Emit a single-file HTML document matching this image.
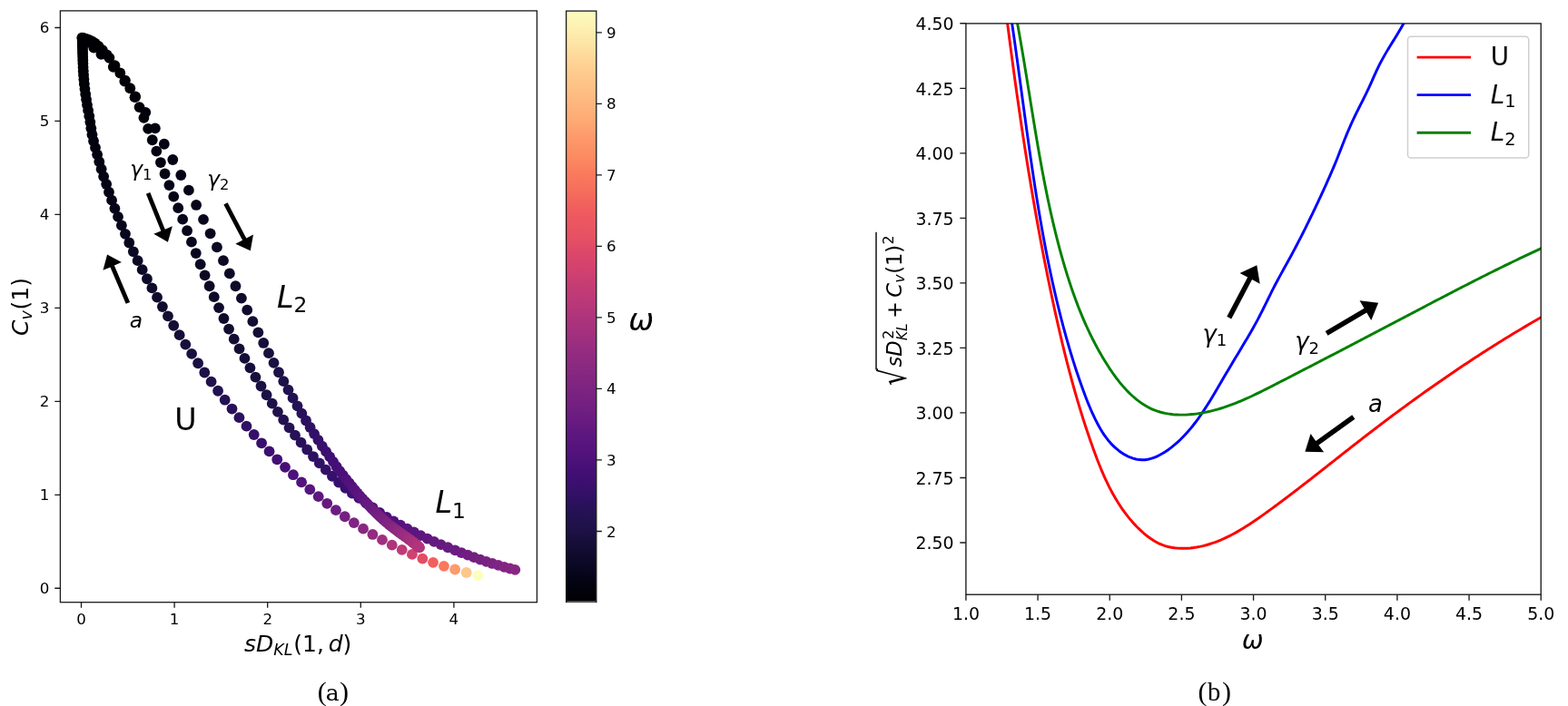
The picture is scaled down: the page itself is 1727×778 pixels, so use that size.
<!DOCTYPE html>
<html lang="en"><head><meta charset="utf-8"><title>Figure: trajectories in the sD_KL - C_v plane</title>
<style>html,body{margin:0;padding:0;background:#fff;}body{width:1727px;height:778px;overflow:hidden;}svg{display:block;}text{white-space:pre;}</style>
</head><body>
<svg width="1727" height="778" viewBox="0 0 1727 778">
<rect x="0" y="0" width="1727" height="778" fill="#fff"/>
<g id="left-axes">
<g id="scatter">
<g id="series-U">
<circle cx="90.8" cy="42" r="5.9" fill="#000004"/>
<circle cx="90.8" cy="42.74" r="5.9" fill="#000004"/>
<circle cx="90.81" cy="44.16" r="5.9" fill="#000004"/>
<circle cx="90.82" cy="45.73" r="5.9" fill="#000004"/>
<circle cx="90.83" cy="47.48" r="5.9" fill="#000004"/>
<circle cx="90.86" cy="49.42" r="5.9" fill="#000004"/>
<circle cx="90.89" cy="51.58" r="5.9" fill="#000004"/>
<circle cx="90.94" cy="53.98" r="5.9" fill="#000004"/>
<circle cx="91" cy="56.64" r="5.9" fill="#000004"/>
<circle cx="91.08" cy="59.6" r="5.9" fill="#010005"/>
<circle cx="91.17" cy="62.86" r="5.9" fill="#010005"/>
<circle cx="91.28" cy="66.33" r="5.9" fill="#010005"/>
<circle cx="91.4" cy="70.03" r="5.9" fill="#010005"/>
<circle cx="91.56" cy="73.98" r="5.9" fill="#010106"/>
<circle cx="91.77" cy="78.21" r="5.9" fill="#010106"/>
<circle cx="92.05" cy="82.71" r="5.9" fill="#010106"/>
<circle cx="92.4" cy="87.51" r="5.9" fill="#010106"/>
<circle cx="92.84" cy="92.62" r="5.9" fill="#010108"/>
<circle cx="93.44" cy="98.07" r="5.9" fill="#010108"/>
<circle cx="94.2" cy="103.74" r="5.9" fill="#010108"/>
<circle cx="95.05" cy="109.56" r="5.9" fill="#020109"/>
<circle cx="95.99" cy="115.55" r="5.9" fill="#020109"/>
<circle cx="97.1" cy="121.69" r="5.9" fill="#020109"/>
<circle cx="98.27" cy="128.01" r="5.9" fill="#02020b"/>
<circle cx="99.35" cy="134.56" r="5.9" fill="#02020b"/>
<circle cx="100.35" cy="141.35" r="5.9" fill="#02020d"/>
<circle cx="101.48" cy="148.33" r="5.9" fill="#02020d"/>
<circle cx="103.03" cy="155.47" r="5.9" fill="#03030f"/>
<circle cx="104.99" cy="162.78" r="5.9" fill="#03030f"/>
<circle cx="107.13" cy="170.33" r="5.9" fill="#030312"/>
<circle cx="109.3" cy="178.14" r="5.9" fill="#030312"/>
<circle cx="111.64" cy="186.21" r="5.9" fill="#030312"/>
<circle cx="114.15" cy="194.53" r="5.9" fill="#040414"/>
<circle cx="117.15" cy="203.02" r="5.9" fill="#050416"/>
<circle cx="119.98" cy="211.74" r="5.9" fill="#050416"/>
<circle cx="123.07" cy="220.64" r="5.9" fill="#060518"/>
<circle cx="126.41" cy="229.72" r="5.9" fill="#06051a"/>
<circle cx="130.01" cy="238.95" r="5.9" fill="#06051a"/>
<circle cx="133.87" cy="248.33" r="5.9" fill="#07061c"/>
<circle cx="137.96" cy="257.86" r="5.9" fill="#08071e"/>
<circle cx="142.29" cy="267.51" r="5.9" fill="#090720"/>
<circle cx="146.86" cy="277.29" r="5.9" fill="#0a0822"/>
<circle cx="151.66" cy="287.18" r="5.9" fill="#0b0924"/>
<circle cx="156.68" cy="297.18" r="5.9" fill="#0c0926"/>
<circle cx="161.92" cy="307.27" r="5.9" fill="#0d0a29"/>
<circle cx="167.37" cy="317.44" r="5.9" fill="#0e0b2b"/>
<circle cx="173.04" cy="327.69" r="5.9" fill="#100b2d"/>
<circle cx="178.9" cy="338.01" r="5.9" fill="#110c2f"/>
<circle cx="184.97" cy="348.37" r="5.9" fill="#120d31"/>
<circle cx="191.23" cy="358.76" r="5.9" fill="#140e36"/>
<circle cx="197.68" cy="369.16" r="5.9" fill="#150e38"/>
<circle cx="204.32" cy="379.55" r="5.9" fill="#160f3b"/>
<circle cx="211.13" cy="389.92" r="5.9" fill="#19103f"/>
<circle cx="218.12" cy="400.24" r="5.9" fill="#1a1042"/>
<circle cx="225.28" cy="410.5" r="5.9" fill="#1d1147"/>
<circle cx="232.6" cy="420.68" r="5.9" fill="#20114b"/>
<circle cx="240.08" cy="430.75" r="5.9" fill="#221150"/>
<circle cx="247.72" cy="440.71" r="5.9" fill="#251255"/>
<circle cx="255.51" cy="450.53" r="5.9" fill="#29115a"/>
<circle cx="263.44" cy="460.19" r="5.9" fill="#2c115f"/>
<circle cx="271.51" cy="469.67" r="5.9" fill="#311165"/>
<circle cx="279.72" cy="478.99" r="5.9" fill="#341069"/>
<circle cx="288.08" cy="488.28" r="5.9" fill="#390f6e"/>
<circle cx="296.58" cy="497.42" r="5.9" fill="#3d0f71"/>
<circle cx="305.22" cy="506.28" r="5.9" fill="#420f75"/>
<circle cx="314.02" cy="514.86" r="5.9" fill="#471078"/>
<circle cx="322.96" cy="523.22" r="5.9" fill="#4c117a"/>
<circle cx="332.05" cy="531.4" r="5.9" fill="#52137c"/>
<circle cx="341.29" cy="539.4" r="5.9" fill="#57157e"/>
<circle cx="350.69" cy="547.19" r="5.9" fill="#5d177f"/>
<circle cx="360.24" cy="554.78" r="5.9" fill="#651a80"/>
<circle cx="369.95" cy="562.13" r="5.9" fill="#6d1d81"/>
<circle cx="379.81" cy="569.24" r="5.9" fill="#752181"/>
<circle cx="389.84" cy="576.1" r="5.9" fill="#7e2482"/>
<circle cx="400.03" cy="582.67" r="5.9" fill="#882781"/>
<circle cx="410.41" cy="588.97" r="5.9" fill="#932b80"/>
<circle cx="420.97" cy="594.95" r="5.9" fill="#a02f7f"/>
<circle cx="431.74" cy="600.62" r="5.9" fill="#ae347b"/>
<circle cx="442.72" cy="605.95" r="5.9" fill="#bf3a77"/>
<circle cx="453.92" cy="610.94" r="5.9" fill="#d0416f"/>
<circle cx="465.34" cy="615.56" r="5.9" fill="#e24d66"/>
<circle cx="477.02" cy="619.85" r="5.9" fill="#f05f5e"/>
<circle cx="488.94" cy="623.83" r="5.9" fill="#f9795d"/>
<circle cx="501.12" cy="627.52" r="5.9" fill="#fd9b6b"/>
<circle cx="513.69" cy="630.97" r="5.9" fill="#fec68a"/>
<circle cx="526.5" cy="634.1" r="5.9" fill="#fcfdbf"/>
</g>
<g id="series-L1">
<circle cx="90.3" cy="41.6" r="5.9" fill="#000004"/>
<circle cx="92.46" cy="42.08" r="5.9" fill="#000004"/>
<circle cx="94.96" cy="42.79" r="5.9" fill="#000004"/>
<circle cx="97.84" cy="43.83" r="5.9" fill="#000004"/>
<circle cx="101.15" cy="45.38" r="5.9" fill="#000004"/>
<circle cx="104.73" cy="47.64" r="5.9" fill="#000004"/>
<circle cx="108.55" cy="51.01" r="5.9" fill="#000004"/>
<circle cx="112.82" cy="55.2" r="5.9" fill="#000004"/>
<circle cx="117.65" cy="60.35" r="5.9" fill="#010005"/>
<circle cx="120.43" cy="63.78" r="5.9" fill="#010005"/>
<circle cx="126.47" cy="72.22" r="5.9" fill="#010106"/>
<circle cx="132.29" cy="80.49" r="5.9" fill="#010106"/>
<circle cx="137.89" cy="88.61" r="5.9" fill="#010108"/>
<circle cx="143.29" cy="97.27" r="5.9" fill="#010108"/>
<circle cx="148.51" cy="107.14" r="5.9" fill="#020109"/>
<circle cx="153.55" cy="118.09" r="5.9" fill="#020109"/>
<circle cx="158.43" cy="129.8" r="5.9" fill="#02020b"/>
<circle cx="163.17" cy="141.94" r="5.9" fill="#02020d"/>
<circle cx="167.78" cy="154.23" r="5.9" fill="#03030f"/>
<circle cx="172.34" cy="166.59" r="5.9" fill="#030312"/>
<circle cx="176.91" cy="179.03" r="5.9" fill="#030312"/>
<circle cx="181.57" cy="191.52" r="5.9" fill="#040414"/>
<circle cx="186.37" cy="204.05" r="5.9" fill="#050416"/>
<circle cx="191.27" cy="216.6" r="5.9" fill="#060518"/>
<circle cx="196.23" cy="229.15" r="5.9" fill="#06051a"/>
<circle cx="201.18" cy="241.7" r="5.9" fill="#07061c"/>
<circle cx="206.08" cy="254.22" r="5.9" fill="#07061c"/>
<circle cx="210.94" cy="266.68" r="5.9" fill="#08071e"/>
<circle cx="215.8" cy="279.03" r="5.9" fill="#090720"/>
<circle cx="220.69" cy="291.25" r="5.9" fill="#0a0822"/>
<circle cx="225.63" cy="303.3" r="5.9" fill="#0b0924"/>
<circle cx="230.65" cy="315.25" r="5.9" fill="#0c0926"/>
<circle cx="235.78" cy="327.14" r="5.9" fill="#0d0a29"/>
<circle cx="241.05" cy="339.06" r="5.9" fill="#0e0b2b"/>
<circle cx="246.47" cy="351" r="5.9" fill="#100b2d"/>
<circle cx="252.05" cy="362.62" r="5.9" fill="#120d31"/>
<circle cx="257.75" cy="373.67" r="5.9" fill="#130d34"/>
<circle cx="263.56" cy="384.33" r="5.9" fill="#140e36"/>
<circle cx="269.46" cy="394.89" r="5.9" fill="#150e38"/>
<circle cx="275.43" cy="405.32" r="5.9" fill="#160f3b"/>
<circle cx="281.45" cy="415.55" r="5.9" fill="#180f3d"/>
<circle cx="287.5" cy="425.52" r="5.9" fill="#1a1042"/>
<circle cx="293.59" cy="435.23" r="5.9" fill="#1c1044"/>
<circle cx="299.74" cy="444.65" r="5.9" fill="#1e1149"/>
<circle cx="305.94" cy="453.81" r="5.9" fill="#20114b"/>
<circle cx="312.21" cy="462.69" r="5.9" fill="#221150"/>
<circle cx="318.57" cy="471.3" r="5.9" fill="#241253"/>
<circle cx="325.01" cy="479.63" r="5.9" fill="#271258"/>
<circle cx="331.56" cy="487.68" r="5.9" fill="#29115a"/>
<circle cx="338.21" cy="495.47" r="5.9" fill="#2c115f"/>
<circle cx="344.97" cy="503.03" r="5.9" fill="#2d1161"/>
<circle cx="351.84" cy="510.4" r="5.9" fill="#311165"/>
<circle cx="358.82" cy="517.63" r="5.9" fill="#331067"/>
<circle cx="365.91" cy="524.73" r="5.9" fill="#36106b"/>
<circle cx="373.1" cy="531.53" r="5.9" fill="#390f6e"/>
<circle cx="380.4" cy="537.86" r="5.9" fill="#3b0f70"/>
<circle cx="387.81" cy="543.62" r="5.9" fill="#3f0f72"/>
<circle cx="395.31" cy="548.84" r="5.9" fill="#420f75"/>
<circle cx="402.9" cy="553.98" r="5.9" fill="#451077"/>
<circle cx="410.53" cy="559.41" r="5.9" fill="#471078"/>
<circle cx="418.19" cy="564.83" r="5.9" fill="#4a1079"/>
<circle cx="425.85" cy="569.85" r="5.9" fill="#4e117b"/>
<circle cx="433.48" cy="574.47" r="5.9" fill="#51127c"/>
<circle cx="441.05" cy="578.74" r="5.9" fill="#54137d"/>
<circle cx="448.55" cy="582.73" r="5.9" fill="#57157e"/>
<circle cx="455.95" cy="586.5" r="5.9" fill="#5a167e"/>
<circle cx="463.3" cy="590.09" r="5.9" fill="#5d177f"/>
<circle cx="470.66" cy="593.53" r="5.9" fill="#5f187f"/>
<circle cx="478.08" cy="596.85" r="5.9" fill="#621980"/>
<circle cx="485.61" cy="600.09" r="5.9" fill="#651a80"/>
<circle cx="493.32" cy="603.27" r="5.9" fill="#681c81"/>
<circle cx="501.26" cy="606.42" r="5.9" fill="#6a1c81"/>
<circle cx="508.19" cy="609.04" r="5.9" fill="#6d1d81"/>
<circle cx="515.18" cy="611.67" r="5.9" fill="#701f81"/>
<circle cx="522.07" cy="614.19" r="5.9" fill="#721f81"/>
<circle cx="528.88" cy="616.59" r="5.9" fill="#752181"/>
<circle cx="535.6" cy="618.84" r="5.9" fill="#782281"/>
<circle cx="542.24" cy="620.97" r="5.9" fill="#7b2382"/>
<circle cx="548.79" cy="622.94" r="5.9" fill="#7e2482"/>
<circle cx="555.27" cy="624.78" r="5.9" fill="#812581"/>
<circle cx="561.66" cy="626.48" r="5.9" fill="#842681"/>
<circle cx="567.3" cy="627.9" r="5.9" fill="#882781"/>
</g>
<g id="series-L2">
<circle cx="90.8" cy="42" r="5.9" fill="#000004"/>
<circle cx="96.5" cy="46.5" r="5.9" fill="#000004"/>
<circle cx="103.3" cy="52.6" r="5.9" fill="#000004"/>
<circle cx="111.45" cy="59.76" r="5.9" fill="#010005"/>
<circle cx="124.77" cy="73.75" r="5.9" fill="#010106"/>
<circle cx="137.32" cy="89.56" r="5.9" fill="#010108"/>
<circle cx="149.15" cy="106.48" r="5.9" fill="#020109"/>
<circle cx="160.31" cy="123.85" r="5.9" fill="#02020b"/>
<circle cx="170.85" cy="141.35" r="5.9" fill="#03030f"/>
<circle cx="180.83" cy="158.77" r="5.9" fill="#030312"/>
<circle cx="190.29" cy="176" r="5.9" fill="#040414"/>
<circle cx="199.29" cy="192.99" r="5.9" fill="#050416"/>
<circle cx="207.89" cy="209.66" r="5.9" fill="#060518"/>
<circle cx="216.12" cy="225.96" r="5.9" fill="#06051a"/>
<circle cx="224.02" cy="241.85" r="5.9" fill="#08071e"/>
<circle cx="231.62" cy="257.35" r="5.9" fill="#090720"/>
<circle cx="238.93" cy="272.45" r="5.9" fill="#0a0822"/>
<circle cx="245.99" cy="287.13" r="5.9" fill="#0b0924"/>
<circle cx="252.83" cy="301.4" r="5.9" fill="#0c0926"/>
<circle cx="259.46" cy="315.24" r="5.9" fill="#0e0b2b"/>
<circle cx="265.91" cy="328.66" r="5.9" fill="#100b2d"/>
<circle cx="272.21" cy="341.65" r="5.9" fill="#110c2f"/>
<circle cx="278.36" cy="354.2" r="5.9" fill="#130d34"/>
<circle cx="284.37" cy="366.31" r="5.9" fill="#140e36"/>
<circle cx="290.23" cy="377.96" r="5.9" fill="#160f3b"/>
<circle cx="295.96" cy="389.17" r="5.9" fill="#180f3d"/>
<circle cx="301.54" cy="399.92" r="5.9" fill="#1a1042"/>
<circle cx="306.99" cy="410.24" r="5.9" fill="#1d1147"/>
<circle cx="312.31" cy="420.13" r="5.9" fill="#1e1149"/>
<circle cx="317.5" cy="429.59" r="5.9" fill="#21114e"/>
<circle cx="322.57" cy="438.65" r="5.9" fill="#221150"/>
<circle cx="327.51" cy="447.31" r="5.9" fill="#251255"/>
<circle cx="332.33" cy="455.57" r="5.9" fill="#29115a"/>
<circle cx="337.03" cy="463.46" r="5.9" fill="#2c115f"/>
<circle cx="341.61" cy="470.97" r="5.9" fill="#2f1163"/>
<circle cx="346.08" cy="478.12" r="5.9" fill="#331067"/>
<circle cx="350.45" cy="484.92" r="5.9" fill="#341069"/>
<circle cx="354.79" cy="491.55" r="5.9" fill="#38106c"/>
<circle cx="359.07" cy="497.62" r="5.9" fill="#3b0f70"/>
<circle cx="363.18" cy="503.38" r="5.9" fill="#3f0f72"/>
<circle cx="367.04" cy="508.91" r="5.9" fill="#420f75"/>
<circle cx="370.65" cy="514.21" r="5.9" fill="#440f76"/>
<circle cx="374.27" cy="519.14" r="5.9" fill="#471078"/>
<circle cx="377.83" cy="523.75" r="5.9" fill="#4a1079"/>
<circle cx="381.29" cy="528.08" r="5.9" fill="#4e117b"/>
<circle cx="384.61" cy="532.18" r="5.9" fill="#51127c"/>
<circle cx="387.75" cy="536.11" r="5.9" fill="#52137c"/>
<circle cx="390.77" cy="539.83" r="5.9" fill="#56147d"/>
<circle cx="393.69" cy="543.34" r="5.9" fill="#59157e"/>
<circle cx="396.52" cy="546.64" r="5.9" fill="#5c167f"/>
<circle cx="399.28" cy="549.71" r="5.9" fill="#5d177f"/>
<circle cx="401.98" cy="552.58" r="5.9" fill="#601880"/>
<circle cx="404.58" cy="555.29" r="5.9" fill="#641a80"/>
<circle cx="407.05" cy="557.87" r="5.9" fill="#671b80"/>
<circle cx="409.42" cy="560.31" r="5.9" fill="#681c81"/>
<circle cx="411.71" cy="562.61" r="5.9" fill="#6b1d81"/>
<circle cx="413.9" cy="564.79" r="5.9" fill="#6e1e81"/>
<circle cx="416.01" cy="566.84" r="5.9" fill="#701f81"/>
<circle cx="418.04" cy="568.77" r="5.9" fill="#732081"/>
<circle cx="419.99" cy="570.58" r="5.9" fill="#752181"/>
<circle cx="421.88" cy="572.28" r="5.9" fill="#782281"/>
<circle cx="423.69" cy="573.88" r="5.9" fill="#792282"/>
<circle cx="425.44" cy="575.39" r="5.9" fill="#7b2382"/>
<circle cx="427.12" cy="576.8" r="5.9" fill="#7e2482"/>
<circle cx="428.73" cy="578.12" r="5.9" fill="#802582"/>
<circle cx="430.29" cy="579.36" r="5.9" fill="#812581"/>
<circle cx="431.78" cy="580.53" r="5.9" fill="#842681"/>
<circle cx="433.21" cy="581.64" r="5.9" fill="#862781"/>
<circle cx="434.57" cy="582.68" r="5.9" fill="#882781"/>
<circle cx="435.88" cy="583.67" r="5.9" fill="#892881"/>
<circle cx="437.13" cy="584.6" r="5.9" fill="#8c2981"/>
<circle cx="438.33" cy="585.48" r="5.9" fill="#8e2a81"/>
<circle cx="439.47" cy="586.32" r="5.9" fill="#902a81"/>
<circle cx="440.55" cy="587.11" r="5.9" fill="#912b81"/>
<circle cx="441.59" cy="587.86" r="5.9" fill="#932b80"/>
<circle cx="442.59" cy="588.58" r="5.9" fill="#942c80"/>
<circle cx="443.54" cy="589.25" r="5.9" fill="#962c80"/>
<circle cx="444.44" cy="589.9" r="5.9" fill="#962c80"/>
<circle cx="445.3" cy="590.51" r="5.9" fill="#982d80"/>
<circle cx="446.11" cy="591.1" r="5.9" fill="#992d80"/>
<circle cx="446.89" cy="591.65" r="5.9" fill="#9b2e7f"/>
<circle cx="447.64" cy="592.18" r="5.9" fill="#9b2e7f"/>
<circle cx="448.35" cy="592.68" r="5.9" fill="#9c2e7f"/>
<circle cx="449.02" cy="593.16" r="5.9" fill="#9e2f7f"/>
<circle cx="449.67" cy="593.62" r="5.9" fill="#9e2f7f"/>
<circle cx="450.32" cy="594.09" r="5.9" fill="#a02f7f"/>
<circle cx="450.97" cy="594.56" r="5.9" fill="#a1307e"/>
<circle cx="451.61" cy="595.03" r="5.9" fill="#a1307e"/>
<circle cx="452.25" cy="595.51" r="5.9" fill="#a3307e"/>
<circle cx="452.89" cy="596" r="5.9" fill="#a5317e"/>
<circle cx="453.52" cy="596.49" r="5.9" fill="#a5317e"/>
<circle cx="454.15" cy="596.97" r="5.9" fill="#a6317d"/>
<circle cx="454.78" cy="597.47" r="5.9" fill="#a6317d"/>
<circle cx="455.41" cy="597.96" r="5.9" fill="#a8327d"/>
<circle cx="456.04" cy="598.46" r="5.9" fill="#aa337d"/>
<circle cx="456.66" cy="598.96" r="5.9" fill="#aa337d"/>
<circle cx="457.29" cy="599.46" r="5.9" fill="#ab337c"/>
<circle cx="457.91" cy="599.96" r="5.9" fill="#ab337c"/>
<circle cx="458.53" cy="600.47" r="5.9" fill="#ad347c"/>
<circle cx="459.15" cy="600.98" r="5.9" fill="#ae347b"/>
<circle cx="459.76" cy="601.49" r="5.9" fill="#ae347b"/>
<circle cx="460.37" cy="602.01" r="5.9" fill="#b0357b"/>
<circle cx="460.98" cy="602.53" r="5.9" fill="#b0357b"/>
<circle cx="461.59" cy="603.05" r="5.9" fill="#b2357b"/>
<circle cx="462" cy="603.4" r="5.9" fill="#b2357b"/>
</g>
</g>
<polygon points="160.88,213.7 177.35,254.44 169.29,257.7 184.9,266.7 189.87,249.37 181.8,252.64 165.32,211.9" fill="#000"/>
<polygon points="246.38,225.52 267.06,264.76 259.36,268.81 275.8,276.2 279,258.46 271.3,262.52 250.62,223.28" fill="#000"/>
<polygon points="143.11,332.96 125.87,292.52 133.88,289.11 118.1,280.4 113.46,297.81 121.46,294.4 138.69,334.84" fill="#000"/>
<rect x="66.4" y="11.9" width="525" height="651.8" fill="none" stroke="#1a1a1a" stroke-width="1.3"/>
<path d="M89.5 663.7 v6.1 M192.1 663.7 v6.1 M294.7 663.7 v6.1 M397.3 663.7 v6.1 M499.9 663.7 v6.1 M66.4 648.25 h-6.1 M66.4 545.29 h-6.1 M66.4 442.33 h-6.1 M66.4 339.37 h-6.1 M66.4 236.41 h-6.1 M66.4 133.45 h-6.1 M66.4 30.49 h-6.1" stroke="#1a1a1a" stroke-width="1.3" fill="none"/>
<g font-family="'DejaVu Sans','Liberation Sans',sans-serif" font-size="16.67" fill="#000">
<text x="89.5" y="687.5" text-anchor="middle">0</text>
<text x="192.1" y="687.5" text-anchor="middle">1</text>
<text x="294.7" y="687.5" text-anchor="middle">2</text>
<text x="397.3" y="687.5" text-anchor="middle">3</text>
<text x="499.9" y="687.5" text-anchor="middle">4</text>
<text x="54.4" y="654.25" text-anchor="end">0</text>
<text x="54.4" y="551.29" text-anchor="end">1</text>
<text x="54.4" y="448.33" text-anchor="end">2</text>
<text x="54.4" y="345.37" text-anchor="end">3</text>
<text x="54.4" y="242.41" text-anchor="end">4</text>
<text x="54.4" y="139.45" text-anchor="end">5</text>
<text x="54.4" y="36.49" text-anchor="end">6</text>
</g>
<text transform="translate(269.1,717.6)" font-family="'DejaVu Sans','Liberation Sans',sans-serif" fill="#000"><tspan x="0" y="0" font-size="25" font-style="italic">s</tspan><tspan x="13.02" y="0" font-size="25" font-style="italic">D</tspan><tspan x="32.28" y="4.1" font-size="17.5" font-style="italic">K</tspan><tspan x="43.75" y="4.1" font-size="17.5" font-style="italic">L</tspan><tspan x="54.18" y="0" font-size="25">(</tspan><tspan x="63.94" y="0" font-size="25">1</tspan><tspan x="79.84" y="0" font-size="25">,</tspan><tspan x="92.66" y="0" font-size="25" font-style="italic">d</tspan><tspan x="108.53" y="0" font-size="25">)</tspan></text>
<text transform="translate(31.2,369.9) rotate(-90)" font-family="'DejaVu Sans','Liberation Sans',sans-serif" fill="#000"><tspan x="0" y="0" font-size="25" font-style="italic">C</tspan><tspan x="17.46" y="4.1" font-size="17.5" font-style="italic">v</tspan><tspan x="28.5" y="0" font-size="25">(</tspan><tspan x="38.25" y="0" font-size="25">1</tspan><tspan x="54.16" y="0" font-size="25">)</tspan></text>
<text transform="translate(143.3,194.35)" font-family="'DejaVu Sans','Liberation Sans',sans-serif" fill="#000"><tspan x="0" y="0" font-size="23.3" font-style="italic">γ</tspan><tspan x="13.76" y="3.77" font-size="16.31">1</tspan></text>
<text transform="translate(228.3,205.25)" font-family="'DejaVu Sans','Liberation Sans',sans-serif" fill="#000"><tspan x="0" y="0" font-size="23.3" font-style="italic">γ</tspan><tspan x="13.76" y="3.77" font-size="16.31">2</tspan></text>
<text transform="translate(142.65,360.7)" font-family="'DejaVu Sans','Liberation Sans',sans-serif" fill="#000"><tspan x="0" y="0" font-size="23.3" font-style="italic">a</tspan></text>
<text x="192.2" y="473.9" font-size="33.33" font-family="'DejaVu Sans','Liberation Sans',sans-serif" text-anchor="start">U</text>
<text transform="translate(304.9,338.6)" font-family="'DejaVu Sans','Liberation Sans',sans-serif" fill="#000"><tspan x="0" y="0" font-size="33.33" font-style="italic">L</tspan><tspan x="18.59" y="5.41" font-size="23.33">2</tspan></text>
<text transform="translate(479.4,565.3)" font-family="'DejaVu Sans','Liberation Sans',sans-serif" fill="#000"><tspan x="0" y="0" font-size="33.33" font-style="italic">L</tspan><tspan x="18.59" y="5.41" font-size="23.33">1</tspan></text>
</g>
<g id="colorbar">
<defs><linearGradient id="magma" x1="0" y1="1" x2="0" y2="0"><stop offset="0" stop-color="#000004"/><stop offset="0.02" stop-color="#02020b"/><stop offset="0.04" stop-color="#050416"/><stop offset="0.06" stop-color="#0a0822"/><stop offset="0.08" stop-color="#100b2d"/><stop offset="0.1" stop-color="#150e38"/><stop offset="0.12" stop-color="#1d1147"/><stop offset="0.15" stop-color="#241253"/><stop offset="0.17" stop-color="#2c115f"/><stop offset="0.19" stop-color="#36106b"/><stop offset="0.21" stop-color="#3f0f72"/><stop offset="0.23" stop-color="#471078"/><stop offset="0.25" stop-color="#51127c"/><stop offset="0.27" stop-color="#59157e"/><stop offset="0.29" stop-color="#601880"/><stop offset="0.31" stop-color="#6a1c81"/><stop offset="0.33" stop-color="#721f81"/><stop offset="0.35" stop-color="#792282"/><stop offset="0.38" stop-color="#832681"/><stop offset="0.4" stop-color="#8b2981"/><stop offset="0.42" stop-color="#932b80"/><stop offset="0.44" stop-color="#9c2e7f"/><stop offset="0.46" stop-color="#a5317e"/><stop offset="0.48" stop-color="#ad347c"/><stop offset="0.5" stop-color="#b73779"/><stop offset="0.52" stop-color="#bf3a77"/><stop offset="0.54" stop-color="#c73d73"/><stop offset="0.56" stop-color="#d0416f"/><stop offset="0.58" stop-color="#d8456c"/><stop offset="0.6" stop-color="#df4a68"/><stop offset="0.62" stop-color="#e75263"/><stop offset="0.65" stop-color="#ec5860"/><stop offset="0.67" stop-color="#f1605d"/><stop offset="0.69" stop-color="#f56b5c"/><stop offset="0.71" stop-color="#f8745c"/><stop offset="0.73" stop-color="#fa7d5e"/><stop offset="0.75" stop-color="#fc8961"/><stop offset="0.77" stop-color="#fd9266"/><stop offset="0.79" stop-color="#fd9b6b"/><stop offset="0.81" stop-color="#fea772"/><stop offset="0.83" stop-color="#feb078"/><stop offset="0.85" stop-color="#feb97f"/><stop offset="0.88" stop-color="#fec488"/><stop offset="0.9" stop-color="#fecd90"/><stop offset="0.92" stop-color="#fed799"/><stop offset="0.94" stop-color="#fde2a3"/><stop offset="0.96" stop-color="#fdebac"/><stop offset="0.98" stop-color="#fcf4b6"/><stop offset="1" stop-color="#fcfdbf"/></linearGradient></defs>
<rect x="623.6" y="12.1" width="33.2" height="651.4" fill="url(#magma)" stroke="#1a1a1a" stroke-width="1.3"/>
<path d="M624.4 663.1 H656" stroke="#777" stroke-width="1.3" fill="none"/>
<path d="M656.8 585.5 h6.1 M656.8 506.97 h6.1 M656.8 428.44 h6.1 M656.8 349.91 h6.1 M656.8 271.38 h6.1 M656.8 192.85 h6.1 M656.8 114.32 h6.1 M656.8 35.79 h6.1" stroke="#1a1a1a" stroke-width="1.3" fill="none"/>
<g font-family="'DejaVu Sans','Liberation Sans',sans-serif" font-size="16.67" fill="#000">
<text x="668" y="591.5">2</text>
<text x="668" y="512.97">3</text>
<text x="668" y="434.44">4</text>
<text x="668" y="355.91">5</text>
<text x="668" y="277.38">6</text>
<text x="668" y="198.85">7</text>
<text x="668" y="120.32">8</text>
<text x="668" y="41.79">9</text>
</g>
<text transform="translate(692.3,363.7)" font-family="'DejaVu Sans','Liberation Sans',sans-serif" fill="#000"><tspan x="0" y="0" font-size="33.33" font-style="italic">ω</tspan></text>
</g>
<text font-family="'Liberation Serif','DejaVu Serif',serif" font-size="30" fill="#000"><tspan x="349.8" y="771.7">(</tspan><tspan x="358.7" y="771.9" font-family="'DejaVu Serif','Liberation Serif',serif" font-size="25">a</tspan><tspan x="374" y="771.7">)</tspan></text>
<g id="right-axes">
<defs><clipPath id="rclip"><rect x="1063.9" y="25.9" width="633.3" height="629.3"/></clipPath></defs>
<g clip-path="url(#rclip)">
<path d="M1108.88 19.88 L1109.32 23.36 L1109.76 26.83 L1110.2 30.31 L1110.65 33.79 L1111.1 37.26 L1111.54 40.74 L1112 44.22 L1112.45 47.7 L1112.9 51.17 L1113.36 54.65 L1113.82 58.13 L1114.28 61.61 L1114.74 65.09 L1115.21 68.57 L1115.68 72.05 L1116.15 75.53 L1116.62 79.01 L1117.09 82.49 L1117.57 85.97 L1118.05 89.46 L1118.53 92.94 L1119.02 96.42 L1119.5 99.9 L1119.99 103.38 L1120.48 106.86 L1120.98 110.35 L1121.48 113.83 L1121.98 117.31 L1122.48 120.79 L1122.98 124.27 L1123.49 127.75 L1124 131.23 L1124.51 134.72 L1125.03 138.2 L1125.55 141.68 L1126.07 145.16 L1126.6 148.64 L1127.13 152.12 L1127.66 155.6 L1128.19 159.08 L1128.73 162.55 L1129.27 166.03 L1129.81 169.51 L1130.36 172.99 L1130.91 176.47 L1131.46 179.94 L1132.02 183.42 L1132.58 186.9 L1133.15 190.37 L1133.71 193.85 L1134.28 197.32 L1134.86 200.79 L1135.43 204.27 L1136.02 207.74 L1136.6 211.21 L1137.19 214.68 L1137.78 218.15 L1138.38 221.62 L1138.98 225.09 L1139.58 228.56 L1140.19 232.02 L1140.8 235.49 L1141.41 238.95 L1142.03 242.42 L1142.66 245.88 L1143.28 249.34 L1143.91 252.81 L1144.55 256.27 L1145.19 259.73 L1145.83 263.18 L1146.48 266.64 L1147.13 270.1 L1147.78 273.55 L1148.44 277.01 L1149.11 280.46 L1149.78 283.91 L1150.45 287.36 L1151.13 290.81 L1151.81 294.26 L1152.5 297.71 L1153.19 301.15 L1153.88 304.6 L1154.58 308.04 L1155.29 311.48 L1156 314.92 L1156.71 318.36 L1157.43 321.8 L1158.15 325.24 L1158.88 328.67 L1159.61 332.1 L1160.35 335.53 L1161.1 338.96 L1161.84 342.39 L1162.6 345.82 L1163.36 349.24 L1164.12 352.67 L1164.89 356.09 L1165.67 359.51 L1166.45 362.93 L1167.24 366.35 L1168.04 369.76 L1168.84 373.17 L1169.65 376.58 L1170.47 379.99 L1171.29 383.4 L1172.13 386.81 L1172.97 390.21 L1173.82 393.61 L1174.67 397.02 L1175.54 400.41 L1176.42 403.81 L1177.3 407.2 L1178.19 410.6 L1179.1 413.99 L1180.01 417.38 L1180.93 420.76 L1181.87 424.15 L1182.81 427.53 L1183.76 430.91 L1184.73 434.29 L1185.71 437.66 L1186.69 441.04 L1187.69 444.41 L1188.7 447.78 L1189.72 451.14 L1190.76 454.51 L1191.8 457.87 L1192.86 461.23 L1193.93 464.59 L1195.01 467.94 L1196.11 471.29 L1197.22 474.64 L1198.35 477.99 L1199.48 481.34 L1200.63 484.68 L1201.8 488.02 L1202.98 491.36 L1204.17 494.69 L1205.39 498.02 L1206.61 501.35 L1207.86 504.67 L1209.14 507.97 L1210.43 511.27 L1211.76 514.55 L1213.11 517.82 L1214.49 521.08 L1215.91 524.31 L1217.36 527.52 L1218.84 530.72 L1220.37 533.88 L1221.93 537.03 L1223.54 540.14 L1225.2 543.23 L1226.9 546.29 L1228.64 549.31 L1230.44 552.3 L1232.3 555.26 L1234.2 558.17 L1236.17 561.05 L1238.19 563.89 L1240.27 566.68 L1242.42 569.43 L1244.63 572.13 L1246.91 574.79 L1249.25 577.39 L1251.67 579.94 L1254.16 582.44 L1256.73 584.89 L1259.37 587.26 L1262.09 589.56 L1264.89 591.75 L1267.76 593.82 L1270.71 595.74 L1273.75 597.5 L1276.86 599.07 L1280.05 600.45 L1283.32 601.6 L1286.66 602.53 L1290.07 603.26 L1293.52 603.8 L1297 604.15 L1300.52 604.32 L1304.05 604.34 L1307.58 604.2 L1311.1 603.92 L1314.6 603.51 L1318.08 602.97 L1321.51 602.33 L1324.91 601.57 L1328.28 600.72 L1331.62 599.76 L1334.92 598.7 L1338.19 597.56 L1341.44 596.32 L1344.65 595.01 L1347.84 593.61 L1350.99 592.14 L1354.13 590.6 L1357.24 588.99 L1360.32 587.33 L1363.39 585.6 L1366.43 583.82 L1369.45 581.99 L1372.45 580.12 L1375.44 578.2 L1378.41 576.25 L1381.36 574.27 L1384.29 572.25 L1387.21 570.22 L1390.12 568.16 L1393.02 566.09 L1395.9 564.01 L1398.78 561.92 L1401.64 559.83 L1404.5 557.73 L1407.35 555.62 L1410.19 553.51 L1413.02 551.39 L1415.84 549.27 L1418.66 547.14 L1421.47 545.01 L1424.27 542.87 L1427.07 540.73 L1429.86 538.59 L1432.64 536.44 L1435.42 534.29 L1438.2 532.14 L1440.97 529.98 L1443.74 527.83 L1446.5 525.67 L1449.26 523.5 L1452.02 521.34 L1454.77 519.17 L1457.52 517.01 L1460.27 514.84 L1463.02 512.67 L1465.77 510.51 L1468.52 508.34 L1471.27 506.17 L1474.01 504 L1476.76 501.84 L1479.51 499.67 L1482.26 497.51 L1485.01 495.34 L1487.76 493.18 L1490.52 491.03 L1493.28 488.87 L1496.04 486.72 L1498.8 484.56 L1501.57 482.42 L1504.34 480.27 L1507.12 478.13 L1509.9 475.99 L1512.68 473.86 L1515.47 471.73 L1518.26 469.6 L1521.06 467.48 L1523.86 465.36 L1526.66 463.25 L1529.47 461.14 L1532.29 459.03 L1535.1 456.93 L1537.92 454.83 L1540.75 452.74 L1543.58 450.65 L1546.41 448.57 L1549.25 446.49 L1552.09 444.41 L1554.94 442.34 L1557.79 440.28 L1560.64 438.22 L1563.5 436.17 L1566.36 434.12 L1569.23 432.07 L1572.1 430.03 L1574.97 428 L1577.85 425.97 L1580.73 423.95 L1583.62 421.93 L1586.51 419.92 L1589.41 417.92 L1592.31 415.92 L1595.21 413.93 L1598.12 411.94 L1601.03 409.96 L1603.94 407.98 L1606.86 406.02 L1609.79 404.05 L1612.71 402.1 L1615.65 400.15 L1618.58 398.21 L1621.52 396.27 L1624.47 394.34 L1627.41 392.42 L1630.37 390.51 L1633.32 388.6 L1636.28 386.7 L1639.25 384.81 L1642.21 382.92 L1645.19 381.04 L1648.16 379.17 L1651.14 377.31 L1654.13 375.45 L1657.12 373.6 L1660.11 371.76 L1663.11 369.93 L1666.11 368.11 L1669.11 366.29 L1672.12 364.48 L1675.14 362.68 L1678.15 360.89 L1681.18 359.11 L1684.2 357.34 L1687.23 355.57 L1690.27 353.81 L1693.3 352.06 L1696.34 350.32 L1699.39 348.59 L1702.44 346.87" fill="none" stroke="#ff0000" stroke-width="2.95" stroke-linejoin="round"/>
<path d="M1113.75 19.86 L1114.26 23.27 L1114.76 26.68 L1115.25 30.09 L1115.75 33.5 L1116.24 36.92 L1116.73 40.33 L1117.21 43.75 L1117.7 47.16 L1118.18 50.58 L1118.65 53.99 L1119.13 57.41 L1119.6 60.83 L1120.08 64.25 L1120.55 67.67 L1121.02 71.09 L1121.48 74.51 L1121.95 77.93 L1122.41 81.35 L1122.88 84.77 L1123.34 88.19 L1123.8 91.61 L1124.27 95.04 L1124.73 98.46 L1125.19 101.88 L1125.65 105.31 L1126.11 108.73 L1126.58 112.15 L1127.04 115.57 L1127.5 119 L1127.97 122.42 L1128.43 125.84 L1128.9 129.27 L1129.36 132.69 L1129.83 136.11 L1130.3 139.54 L1130.77 142.96 L1131.25 146.38 L1131.72 149.8 L1132.2 153.22 L1132.68 156.65 L1133.16 160.07 L1133.64 163.49 L1134.13 166.91 L1134.62 170.33 L1135.11 173.75 L1135.61 177.16 L1136.11 180.58 L1136.61 184 L1137.12 187.42 L1137.63 190.83 L1138.14 194.25 L1138.66 197.66 L1139.18 201.08 L1139.7 204.49 L1140.24 207.9 L1140.77 211.31 L1141.31 214.72 L1141.86 218.13 L1142.41 221.54 L1142.96 224.95 L1143.52 228.36 L1144.09 231.76 L1144.66 235.16 L1145.24 238.57 L1145.82 241.97 L1146.41 245.37 L1147 248.77 L1147.61 252.17 L1148.22 255.56 L1148.83 258.96 L1149.45 262.35 L1150.08 265.75 L1150.72 269.14 L1151.36 272.53 L1152.01 275.92 L1152.67 279.3 L1153.34 282.69 L1154.01 286.07 L1154.7 289.45 L1155.39 292.83 L1156.09 296.21 L1156.79 299.59 L1157.51 302.96 L1158.24 306.34 L1158.97 309.71 L1159.71 313.08 L1160.47 316.44 L1161.23 319.81 L1162 323.17 L1162.78 326.53 L1163.57 329.89 L1164.37 333.25 L1165.18 336.6 L1166.01 339.96 L1166.84 343.31 L1167.68 346.66 L1168.53 350 L1169.4 353.35 L1170.27 356.69 L1171.16 360.03 L1172.06 363.36 L1172.97 366.7 L1173.89 370.03 L1174.82 373.36 L1175.77 376.69 L1176.72 380.01 L1177.69 383.33 L1178.67 386.65 L1179.67 389.96 L1180.68 393.27 L1181.7 396.57 L1182.74 399.87 L1183.79 403.17 L1184.85 406.46 L1185.93 409.74 L1187.03 413.02 L1188.13 416.29 L1189.26 419.55 L1190.4 422.81 L1191.56 426.06 L1192.73 429.3 L1193.92 432.54 L1195.13 435.76 L1196.36 438.98 L1197.61 442.18 L1198.9 445.37 L1200.22 448.55 L1201.57 451.72 L1202.96 454.86 L1204.4 457.99 L1205.88 461.1 L1207.41 464.2 L1209 467.26 L1210.65 470.3 L1212.37 473.29 L1214.17 476.23 L1216.07 479.12 L1218.07 481.94 L1220.17 484.68 L1222.39 487.34 L1224.74 489.9 L1227.23 492.36 L1229.86 494.71 L1232.62 496.93 L1235.51 499 L1238.51 500.88 L1241.59 502.55 L1244.75 503.98 L1247.96 505.15 L1251.22 506.03 L1254.5 506.59 L1257.79 506.81 L1261.07 506.67 L1264.35 506.2 L1267.59 505.42 L1270.81 504.36 L1274 503.06 L1277.13 501.54 L1280.21 499.83 L1283.24 497.96 L1286.19 495.95 L1289.06 493.84 L1291.85 491.66 L1294.55 489.41 L1297.17 487.1 L1299.72 484.73 L1302.18 482.31 L1304.58 479.84 L1306.91 477.31 L1309.18 474.74 L1311.4 472.13 L1313.55 469.47 L1315.66 466.77 L1317.72 464.04 L1319.74 461.27 L1321.72 458.48 L1323.67 455.65 L1325.59 452.79 L1327.48 449.92 L1329.34 447.02 L1331.18 444.1 L1333 441.16 L1334.8 438.21 L1336.59 435.25 L1338.36 432.27 L1340.12 429.29 L1341.88 426.3 L1343.62 423.31 L1345.37 420.32 L1347.11 417.33 L1348.85 414.34 L1350.6 411.36 L1352.35 408.38 L1354.11 405.41 L1355.87 402.45 L1357.64 399.49 L1359.41 396.54 L1361.18 393.59 L1362.95 390.64 L1364.73 387.69 L1366.5 384.73 L1368.27 381.78 L1370.03 378.82 L1371.8 375.85 L1373.55 372.88 L1375.3 369.9 L1377.04 366.91 L1378.76 363.92 L1380.46 360.91 L1382.15 357.9 L1383.81 354.87 L1385.45 351.83 L1387.06 348.77 L1388.64 345.7 L1390.2 342.62 L1391.74 339.53 L1393.27 336.44 L1394.79 333.34 L1396.3 330.24 L1397.82 327.14 L1399.35 324.04 L1400.88 320.95 L1402.44 317.87 L1404.01 314.79 L1405.61 311.74 L1407.24 308.69 L1408.88 305.65 L1410.53 302.62 L1412.2 299.59 L1413.87 296.57 L1415.54 293.55 L1417.22 290.53 L1418.88 287.5 L1420.54 284.48 L1422.19 281.44 L1423.83 278.4 L1425.45 275.36 L1427.06 272.31 L1428.66 269.25 L1430.25 266.19 L1431.83 263.12 L1433.39 260.05 L1434.95 256.97 L1436.5 253.89 L1438.04 250.8 L1439.57 247.71 L1441.09 244.61 L1442.6 241.51 L1444.11 238.41 L1445.61 235.3 L1447.1 232.19 L1448.59 229.08 L1450.07 225.96 L1451.54 222.84 L1453 219.71 L1454.46 216.58 L1455.91 213.45 L1457.34 210.31 L1458.77 207.17 L1460.19 204.02 L1461.6 200.88 L1463 197.72 L1464.39 194.56 L1465.77 191.4 L1467.14 188.23 L1468.49 185.06 L1469.83 181.88 L1471.16 178.7 L1472.46 175.51 L1473.74 172.31 L1474.99 169.09 L1476.23 165.88 L1477.47 162.66 L1478.72 159.44 L1479.98 156.23 L1481.26 153.02 L1482.56 149.83 L1483.89 146.64 L1485.23 143.46 L1486.6 140.3 L1488 137.14 L1489.42 134 L1490.88 130.87 L1492.36 127.75 L1493.87 124.65 L1495.4 121.56 L1496.95 118.47 L1498.51 115.39 L1500.06 112.31 L1501.62 109.23 L1503.16 106.14 L1504.68 103.04 L1506.19 99.93 L1507.66 96.81 L1509.09 93.67 L1510.51 90.52 L1511.9 87.36 L1513.3 84.2 L1514.71 81.05 L1516.15 77.92 L1517.62 74.8 L1519.15 71.71 L1520.73 68.65 L1522.35 65.62 L1524.02 62.6 L1525.72 59.61 L1527.46 56.63 L1529.23 53.67 L1531.03 50.73 L1532.84 47.79 L1534.66 44.85 L1536.49 41.92 L1538.3 38.98 L1540.1 36.03 L1541.87 33.06 L1543.61 30.08 L1545.3 27.07 L1546.94 24.03 L1548.52 20.96" fill="none" stroke="#0000ff" stroke-width="2.95" stroke-linejoin="round"/>
<path d="M1119.47 19.87 L1120.01 22.78 L1120.55 25.69 L1121.08 28.6 L1121.61 31.51 L1122.13 34.42 L1122.65 37.33 L1123.17 40.25 L1123.68 43.16 L1124.18 46.08 L1124.69 49 L1125.19 51.92 L1125.69 54.84 L1126.18 57.76 L1126.68 60.68 L1127.16 63.6 L1127.65 66.52 L1128.14 69.45 L1128.62 72.37 L1129.1 75.3 L1129.58 78.22 L1130.06 81.15 L1130.53 84.08 L1131.01 87.01 L1131.48 89.93 L1131.95 92.86 L1132.43 95.79 L1132.9 98.72 L1133.37 101.65 L1133.84 104.58 L1134.31 107.51 L1134.78 110.44 L1135.25 113.37 L1135.73 116.3 L1136.2 119.23 L1136.67 122.16 L1137.15 125.09 L1137.62 128.02 L1138.1 130.95 L1138.58 133.88 L1139.06 136.81 L1139.54 139.73 L1140.03 142.66 L1140.51 145.59 L1141 148.52 L1141.5 151.44 L1141.99 154.37 L1142.49 157.3 L1142.99 160.22 L1143.49 163.14 L1144 166.07 L1144.51 168.99 L1145.03 171.91 L1145.55 174.83 L1146.07 177.75 L1146.6 180.67 L1147.13 183.59 L1147.67 186.51 L1148.21 189.42 L1148.76 192.34 L1149.31 195.25 L1149.87 198.16 L1150.43 201.07 L1151 203.98 L1151.58 206.89 L1152.16 209.8 L1152.75 212.7 L1153.34 215.61 L1153.94 218.51 L1154.55 221.41 L1155.17 224.31 L1155.79 227.2 L1156.42 230.1 L1157.05 232.99 L1157.7 235.88 L1158.35 238.77 L1159.01 241.66 L1159.68 244.55 L1160.36 247.43 L1161.04 250.31 L1161.74 253.19 L1162.44 256.07 L1163.15 258.94 L1163.88 261.81 L1164.61 264.68 L1165.35 267.55 L1166.1 270.42 L1166.86 273.28 L1167.63 276.14 L1168.41 279 L1169.21 281.85 L1170.01 284.71 L1170.82 287.56 L1171.65 290.4 L1172.48 293.25 L1173.33 296.09 L1174.19 298.93 L1175.06 301.76 L1175.95 304.59 L1176.85 307.42 L1177.76 310.24 L1178.68 313.06 L1179.62 315.87 L1180.58 318.67 L1181.55 321.48 L1182.53 324.27 L1183.54 327.06 L1184.55 329.85 L1185.59 332.62 L1186.64 335.39 L1187.7 338.16 L1188.79 340.92 L1189.89 343.67 L1191.01 346.41 L1192.15 349.14 L1193.31 351.87 L1194.49 354.59 L1195.68 357.29 L1196.9 360 L1198.14 362.69 L1199.4 365.37 L1200.67 368.04 L1201.98 370.7 L1203.3 373.36 L1204.64 376 L1206.01 378.63 L1207.4 381.25 L1208.81 383.86 L1210.25 386.46 L1211.71 389.05 L1213.2 391.63 L1214.71 394.19 L1216.24 396.74 L1217.8 399.28 L1219.39 401.81 L1221 404.32 L1222.64 406.82 L1224.31 409.29 L1226.02 411.75 L1227.76 414.18 L1229.53 416.58 L1231.35 418.95 L1233.2 421.29 L1235.1 423.59 L1237.04 425.85 L1239.02 428.07 L1241.06 430.25 L1243.14 432.38 L1245.27 434.46 L1247.46 436.49 L1249.69 438.45 L1251.98 440.34 L1254.32 442.15 L1256.71 443.89 L1259.15 445.53 L1261.63 447.07 L1264.17 448.52 L1266.76 449.85 L1269.4 451.06 L1272.08 452.15 L1274.81 453.13 L1277.58 453.99 L1280.39 454.73 L1283.23 455.37 L1286.11 455.9 L1289.01 456.33 L1291.93 456.67 L1294.88 456.91 L1297.84 457.06 L1300.81 457.12 L1303.79 457.1 L1306.77 457 L1309.75 456.83 L1312.74 456.58 L1315.71 456.27 L1318.68 455.89 L1321.63 455.44 L1324.57 454.94 L1327.49 454.39 L1330.39 453.78 L1333.27 453.12 L1336.14 452.41 L1339 451.65 L1341.84 450.84 L1344.66 449.99 L1347.48 449.1 L1350.27 448.16 L1353.06 447.19 L1355.83 446.18 L1358.6 445.13 L1361.35 444.05 L1364.09 442.94 L1366.82 441.8 L1369.55 440.64 L1372.26 439.44 L1374.96 438.22 L1377.66 436.98 L1380.35 435.72 L1383.04 434.44 L1385.71 433.15 L1388.39 431.84 L1391.05 430.51 L1393.71 429.18 L1396.37 427.84 L1399.03 426.48 L1401.68 425.13 L1404.33 423.77 L1406.98 422.4 L1409.62 421.04 L1412.27 419.68 L1414.91 418.32 L1417.56 416.95 L1420.2 415.59 L1422.84 414.23 L1425.48 412.87 L1428.12 411.51 L1430.76 410.14 L1433.39 408.78 L1436.03 407.42 L1438.66 406.06 L1441.3 404.7 L1443.93 403.34 L1446.56 401.97 L1449.19 400.61 L1451.82 399.25 L1454.45 397.88 L1457.08 396.52 L1459.71 395.16 L1462.34 393.79 L1464.96 392.43 L1467.59 391.07 L1470.22 389.7 L1472.84 388.34 L1475.47 386.97 L1478.09 385.61 L1480.72 384.24 L1483.34 382.87 L1485.96 381.5 L1488.59 380.14 L1491.21 378.77 L1493.83 377.4 L1496.45 376.03 L1499.08 374.66 L1501.7 373.29 L1504.32 371.92 L1506.94 370.54 L1509.56 369.17 L1512.18 367.8 L1514.8 366.42 L1517.43 365.05 L1520.05 363.67 L1522.67 362.29 L1525.29 360.92 L1527.91 359.54 L1530.53 358.16 L1533.15 356.78 L1535.78 355.4 L1538.4 354.02 L1541.02 352.63 L1543.64 351.25 L1546.27 349.87 L1548.89 348.49 L1551.51 347.11 L1554.14 345.73 L1556.76 344.34 L1559.39 342.96 L1562.01 341.58 L1564.64 340.2 L1567.27 338.82 L1569.89 337.44 L1572.52 336.06 L1575.15 334.69 L1577.78 333.31 L1580.41 331.93 L1583.04 330.56 L1585.67 329.19 L1588.3 327.82 L1590.93 326.45 L1593.57 325.08 L1596.2 323.71 L1598.84 322.34 L1601.47 320.98 L1604.11 319.62 L1606.75 318.26 L1609.39 316.9 L1612.03 315.54 L1614.67 314.19 L1617.31 312.84 L1619.95 311.49 L1622.6 310.15 L1625.24 308.8 L1627.89 307.46 L1630.54 306.12 L1633.19 304.79 L1635.84 303.46 L1638.49 302.13 L1641.14 300.8 L1643.79 299.48 L1646.45 298.16 L1649.11 296.85 L1651.76 295.53 L1654.42 294.23 L1657.09 292.92 L1659.75 291.62 L1662.41 290.33 L1665.08 289.03 L1667.75 287.74 L1670.42 286.46 L1673.09 285.18 L1675.76 283.9 L1678.43 282.63 L1681.11 281.37 L1683.79 280.11 L1686.47 278.85 L1689.15 277.6 L1691.83 276.35 L1694.51 275.11 L1697.2 273.87 L1699.89 272.64 L1702.58 271.41" fill="none" stroke="#008000" stroke-width="2.95" stroke-linejoin="round"/>
</g>
<polygon points="1356.18,351.38 1379.03,308.08 1387.66,312.63 1384.3,292.2 1365.54,300.96 1374.17,305.51 1351.32,348.82" fill="#000"/>
<polygon points="1462.5,369.77 1505.29,344.51 1510.25,352.9 1518.1,333.75 1497.54,331.37 1502.49,339.77 1459.7,365.03" fill="#000"/>
<polygon points="1489.2,457.36 1449.22,485.96 1443.55,478.03 1437.4,497.8 1458.09,498.37 1452.42,490.44 1492.4,461.84" fill="#000"/>
<rect x="1063.9" y="25.9" width="633.3" height="629.3" fill="none" stroke="#1a1a1a" stroke-width="1.35"/>
<path d="M1063.9 655.2 v6.6 M1143.07 655.2 v6.6 M1222.23 655.2 v6.6 M1301.39 655.2 v6.6 M1380.56 655.2 v6.6 M1459.73 655.2 v6.6 M1538.89 655.2 v6.6 M1618.06 655.2 v6.6 M1697.22 655.2 v6.6 M1063.9 597.98 h-6.6 M1063.9 526.45 h-6.6 M1063.9 454.93 h-6.6 M1063.9 383.4 h-6.6 M1063.9 311.88 h-6.6 M1063.9 240.35 h-6.6 M1063.9 168.83 h-6.6 M1063.9 97.3 h-6.6 M1063.9 25.78 h-6.6" stroke="#1a1a1a" stroke-width="1.35" fill="none"/>
<g font-family="'DejaVu Sans','Liberation Sans',sans-serif" font-size="18.9" fill="#000">
<text x="1063.9" y="683.2" text-anchor="middle">1.0</text>
<text x="1143.07" y="683.2" text-anchor="middle">1.5</text>
<text x="1222.23" y="683.2" text-anchor="middle">2.0</text>
<text x="1301.39" y="683.2" text-anchor="middle">2.5</text>
<text x="1380.56" y="683.2" text-anchor="middle">3.0</text>
<text x="1459.73" y="683.2" text-anchor="middle">3.5</text>
<text x="1538.89" y="683.2" text-anchor="middle">4.0</text>
<text x="1618.06" y="683.2" text-anchor="middle">4.5</text>
<text x="1697.22" y="683.2" text-anchor="middle">5.0</text>
<text x="1050.5" y="605.28" text-anchor="end">2.50</text>
<text x="1050.5" y="533.75" text-anchor="end">2.75</text>
<text x="1050.5" y="462.23" text-anchor="end">3.00</text>
<text x="1050.5" y="390.7" text-anchor="end">3.25</text>
<text x="1050.5" y="319.18" text-anchor="end">3.50</text>
<text x="1050.5" y="247.65" text-anchor="end">3.75</text>
<text x="1050.5" y="176.13" text-anchor="end">4.00</text>
<text x="1050.5" y="104.6" text-anchor="end">4.25</text>
<text x="1050.5" y="33.08" text-anchor="end">4.50</text>
</g>
<text transform="translate(1367.8,714.9)" font-family="'DejaVu Sans','Liberation Sans',sans-serif" fill="#000"><tspan x="0" y="0" font-size="28.5" font-style="italic">ω</tspan></text>
<g transform="translate(992.6,424.9) rotate(-90)" font-family="'DejaVu Sans','Liberation Sans',sans-serif" fill="#000">
<text transform="translate(0,5.3) scale(0.73,1)" font-size="40.5">√</text>
<rect x="17.5" y="-28.3" width="151.6" height="1.4"/>
<text><tspan x="20.42" y="0" font-size="22.65" font-style="italic">s</tspan><tspan x="32.21" y="0" font-size="22.65" font-style="italic">D</tspan><tspan x="51.24" y="-8.7" font-size="15.85">2</tspan><tspan x="49.63" y="6.1" font-size="15.85" font-style="italic">K</tspan><tspan x="60.02" y="6.1" font-size="15.85" font-style="italic">L</tspan><tspan x="73.88" y="0" font-size="22.65">+</tspan><tspan x="97.24" y="0" font-size="22.65" font-style="italic">C</tspan><tspan x="113.04" y="3.7" font-size="15.85" font-style="italic">v</tspan><tspan x="123.04" y="0" font-size="22.65">(</tspan><tspan x="131.87" y="0" font-size="22.65">1</tspan><tspan x="146.26" y="0" font-size="22.65">)</tspan><tspan x="155.31" y="-8.7" font-size="15.85">2</tspan></text>
</g>
<text transform="translate(1324.5,376.5)" font-family="'DejaVu Sans','Liberation Sans',sans-serif" fill="#000"><tspan x="0" y="0" font-size="25.8" font-style="italic">γ</tspan><tspan x="15.24" y="4.27" font-size="18.06">1</tspan></text>
<text transform="translate(1426.2,385.4)" font-family="'DejaVu Sans','Liberation Sans',sans-serif" fill="#000"><tspan x="0" y="0" font-size="25.8" font-style="italic">γ</tspan><tspan x="15.24" y="4.27" font-size="18.06">2</tspan></text>
<text transform="translate(1507.1,453.85)" font-family="'DejaVu Sans','Liberation Sans',sans-serif" fill="#000"><tspan x="0" y="0" font-size="25.8" font-style="italic">a</tspan></text>
<rect x="1550.5" y="40.3" width="133.2" height="133.8" rx="3.6" ry="3.6" fill="#fff" fill-opacity="0.8" stroke="#cfcfcf" stroke-width="1.5"/>
<path d="M1560.6 63.1 H1620" stroke="#ff0000" stroke-width="2.95" fill="none"/>
<path d="M1560.6 104.6 H1620" stroke="#0000ff" stroke-width="2.95" fill="none"/>
<path d="M1560.6 146.25 H1620" stroke="#008000" stroke-width="2.95" fill="none"/>
<text x="1641.7" y="72" font-size="27.7" font-family="'DejaVu Sans','Liberation Sans',sans-serif" text-anchor="start">U</text>
<text transform="translate(1641.7,113.7)" font-family="'DejaVu Sans','Liberation Sans',sans-serif" fill="#000"><tspan x="0" y="0" font-size="27.7" font-style="italic">L</tspan><tspan x="15.46" y="4.6" font-size="19.39">1</tspan></text>
<text transform="translate(1641.7,155.4)" font-family="'DejaVu Sans','Liberation Sans',sans-serif" fill="#000"><tspan x="0" y="0" font-size="27.7" font-style="italic">L</tspan><tspan x="15.46" y="4.6" font-size="19.39">2</tspan></text>
</g>
<text font-family="'Liberation Serif','DejaVu Serif',serif" font-size="30" fill="#000"><tspan x="1319.4" y="771.7">(</tspan><tspan x="1330.1" y="771.5" font-family="'Liberation Serif','DejaVu Serif',serif" font-size="28.6">b</tspan><tspan x="1346" y="771.7">)</tspan></text>
</svg>
</body></html>
